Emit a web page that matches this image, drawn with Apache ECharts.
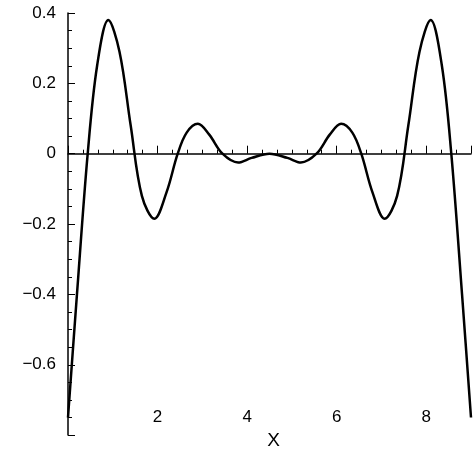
<!DOCTYPE html><html><head><meta charset="utf-8"><script src="https://cdn.jsdelivr.net/npm/echarts@6/dist/echarts.min.js"></script></head><body style="margin:0;background:#fff"><div id="c" style="width:474px;height:455px"></div><script>
const xs=[0,0.2,0.44,0.65,0.9,1.15,1.4,1.65,1.93,2.2,2.45,2.65,2.9,3.15,3.45,3.8,4.1,4.5,4.9,5.2,5.55,5.85,6.1,6.35,6.55,6.8,7.07,7.35,7.6,7.85,8.1,8.35,8.56,8.8,9];
const ys=[-0.75,-0.4,0,0.25,0.38,0.29,0.08,-0.12,-0.185,-0.11,0,0.06,0.085,0.055,0,-0.025,-0.012,0,-0.012,-0.025,0,0.055,0.085,0.06,0,-0.11,-0.185,-0.12,0.08,0.29,0.38,0.25,0,-0.4,-0.75];
const xTicks=[2,4,6,8];
const yTicks=[-0.6,-0.4,-0.2,0,0.2,0.4];
const F='"Liberation Sans",Helvetica,Arial,sans-serif';
const ch=echarts.init(document.getElementById('c'));
ch.setOption({animation:false,
grid:{left:68,right:0,top:13,bottom:-4},
xAxis:{type:'value',min:0,max:9,interval:2,position:'bottom',name:'X',nameLocation:'middle',nameGap:-19,nameTextStyle:{fontFamily:F,fontSize:19,color:'#000',padding:[0,0,0,8]},
 axisLine:{onZero:true,lineStyle:{color:'#000',width:1.5}},
 axisTick:{inside:true,length:8,lineStyle:{color:'#000'}},minorTick:{show:true,splitNumber:6,length:4,lineStyle:{color:'#000'}},
 splitLine:{show:false},
 axisLabel:{fontFamily:F,fontSize:17,color:'#000',margin:-26,formatter:v=>xTicks.includes(v)?String(v):''}},
yAxis:{type:'value',min:-0.8,max:0.4,interval:0.2,
 axisLine:{show:true,onZero:false,lineStyle:{color:'#000',width:1.5}},
 axisTick:{inside:true,length:7,lineStyle:{color:'#000'}},minorTick:{show:true,splitNumber:4,length:4,lineStyle:{color:'#000'}},
 splitLine:{show:false},
 axisLabel:{fontFamily:F,fontSize:17,color:'#000',margin:12,formatter:v=>{const r=Math.round(v*10)/10;if(!yTicks.includes(r))return '';return r===0?'0':(r<0?'\u2212':'')+Math.abs(r).toString();}}},
series:[{type:'line',data:xs.map((x,i)=>[x,ys[i]]),smooth:0.35,showSymbol:false,lineStyle:{color:'#000',width:2.5},clip:true}]
});
</script></body></html>
